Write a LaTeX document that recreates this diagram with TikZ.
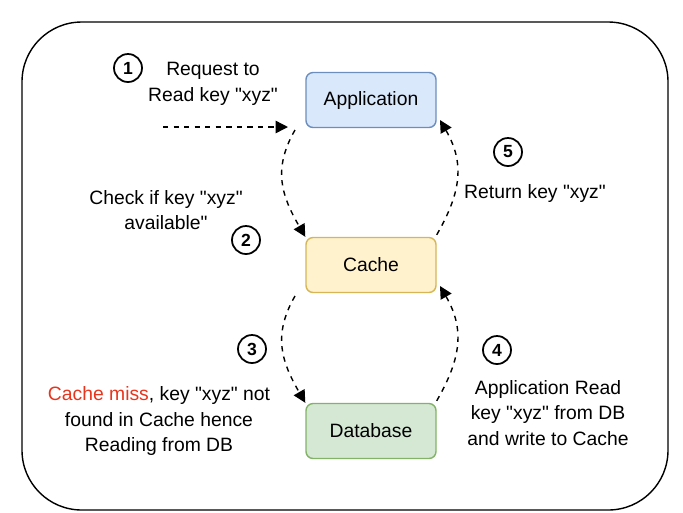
\documentclass[tikz,border=0pt]{standalone}
\usepackage{fontspec}
\setmainfont{Liberation Sans}[Ligatures=TeXOff]
\usetikzlibrary{arrows.meta}
\definecolor{appfill}{HTML}{DAE8FC}\definecolor{appdraw}{HTML}{6C8EBF}
\definecolor{cachefill}{HTML}{FFF2CC}\definecolor{cachedraw}{HTML}{D6B656}
\definecolor{dbfill}{HTML}{D5E8D4}\definecolor{dbdraw}{HTML}{82B366}
\definecolor{missred}{HTML}{E8341C}
\begin{document}
\begin{tikzpicture}[x=0.02cm,y=-0.02cm,
    every node/.style={font=\fontsize{11pt}{14.7pt}\selectfont, text=black},
    box/.style={rectangle, rounded corners=4pt, minimum width=130*0.02cm, minimum height=55*0.02cm, line width=0.8pt},
    num/.style={circle, draw=black, line width=1pt, minimum size=28*0.02cm, inner sep=0pt, font=\fontsize{10pt}{11pt}\selectfont\bfseries},
    flow/.style={dashed, line width=0.8pt, -{Triangle[length=7pt,width=7pt]}},
    lbl/.style={align=center}]
    \useasboundingbox (0,0) rectangle (683,512);
    \draw[line width=0.8pt, rounded corners=34pt] (22,22) rectangle (668,510);

    \node[box, fill=appfill, draw=appdraw] (app) at (371,100) {Application};
    \node[box, fill=cachefill, draw=cachedraw] (cache) at (371,265) {Cache};
    \node[box, fill=dbfill, draw=dbdraw] (db) at (371,431) {Database};

    \node[num] (s1) at (128,68) {1};
    \node[num] (s2) at (246,240) {2};
    \node[num] (s3) at (252,349) {3};
    \node[num] (s4) at (497,350) {4};
    \node[num] (s5) at (508,152) {5};

    \node[lbl] (req) at (213,84) {Request to\\Read key "xyz"};
    \node[lbl] (chk) at (166,210) {Check if key "xyz"\\available"};
    \node[lbl] (ret) at (535,193) {Return key "xyz"};
    \node[lbl] (miss) at (159,421) {\textcolor{missred}{Cache miss}, key "xyz" not\\found in Cache hence\\Reading from DB};
    \node[lbl] (wr) at (548,413) {Application Read\\key "xyz" from DB\\and write to Cache};

    \coordinate (start) at (163,127);
    \draw[flow] (start) -- (288,127);
    \draw[flow] (295,130) to[out=240,in=120,looseness=1.1] (cache.north west);
    \draw[flow] (295,296) to[out=240,in=120,looseness=1.1] (db.north west);
    \draw[flow] (cache.north east) ++(0,-2) to[out=60,in=300,looseness=1.1] (440,120);
    \draw[flow] (db.north east) ++(0,-2) to[out=60,in=300,looseness=1.1] (440,286);
\end{tikzpicture}
\end{document}
